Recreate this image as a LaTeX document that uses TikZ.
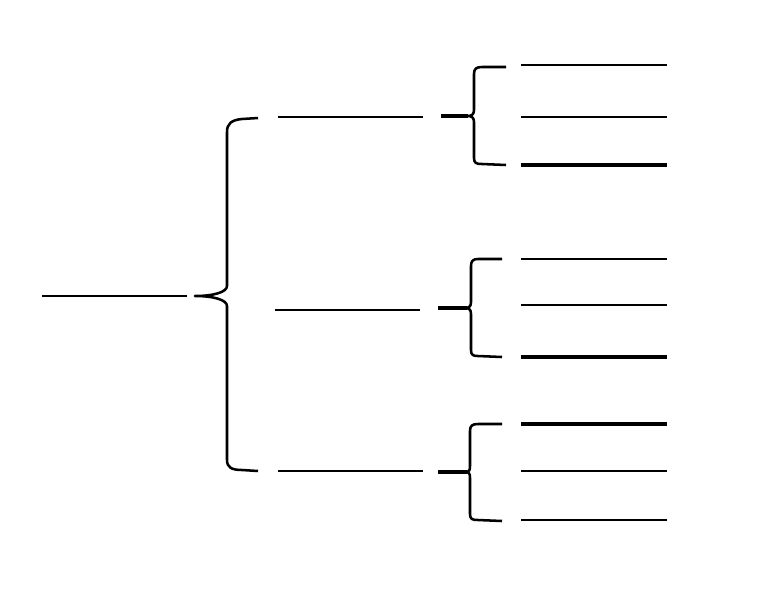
\documentclass[tikz,border=0pt]{standalone}
\begin{document}
\begin{tikzpicture}[x=0.75pt,y=-0.75pt,
  ln/.style={line width=2pt},
  lnthin/.style={line width=1.6pt},
  lnthick/.style={line width=2.6pt},
  brc/.style={line width=1.9pt,line join=round}]
\path[use as bounding box,fill=white] (0,0) rectangle (768,594);
% left root line
\coordinate (r0) at (42,296); \coordinate (r1) at (187,296);
\draw[lnthin] (r0) -- (r1);
% big brace
\coordinate (bt) at (195,296);
\coordinate (bA) at (258,118); \coordinate (bB) at (258,471);
\draw[brc] (bA) -- (242,119) .. controls (231,120) and (227,124) .. (227,132)
  -- (227,286) .. controls (227,292) and (214,296) .. (bt)
  .. controls (214,296) and (227,300) .. (227,306)
  -- (227,460) .. controls (227,467) and (231,470) .. (242,470) -- (bB);
% second level lines
\coordinate (m1a) at (278,117); \coordinate (m1b) at (423,117);
\coordinate (m2a) at (275,310); \coordinate (m2b) at (420,310);
\coordinate (m3a) at (278,471); \coordinate (m3b) at (423,471);
\draw[ln] (m1a) -- (m1b);
\draw[lnthin] (m2a) -- (m2b);
\draw[ln] (m3a) -- (m3b);
% short stubs into small braces
\coordinate (s1a) at (441,116); \coordinate (s1t) at (468,116);
\coordinate (s2a) at (438,308); \coordinate (s2t) at (467,308);
\coordinate (s3a) at (438,472); \coordinate (s3t) at (467,472);
\draw[lnthick] (s1a) -- (s1t);
\draw[lnthick] (s2a) -- (s2t);
\draw[lnthick] (s3a) -- (s3t);
% small brace 1
\draw[brc] (506,67) -- (482,67) .. controls (476,67) and (474,69) .. (474,74)
  -- (474,110) .. controls (474,114) and (472,116) .. (s1t)
  .. controls (472,116) and (474,118) .. (474,122)
  -- (474,158) .. controls (474,163) and (476,164) .. (482,164) -- (506,165);
% small brace 2
\draw[brc] (502,259) -- (478,259) .. controls (473,259) and (471,261) .. (471,266)
  -- (471,302) .. controls (471,306) and (469,308) .. (s2t)
  .. controls (469,308) and (471,310) .. (471,314)
  -- (471,350) .. controls (471,355) and (473,356) .. (478,356) -- (502,357);
% small brace 3
\draw[brc] (502,424) -- (478,424) .. controls (472,424) and (470,426) .. (470,431)
  -- (470,466) .. controls (470,470) and (469,472) .. (s3t)
  .. controls (469,472) and (470,474) .. (470,478)
  -- (470,514) .. controls (470,519) and (472,520) .. (478,520) -- (502,521);
% right leaf lines
\coordinate (a1) at (521,65);  \coordinate (b1) at (667,65);
\coordinate (a2) at (521,117); \coordinate (b2) at (667,117);
\coordinate (a3) at (521,165); \coordinate (b3) at (667,165);
\coordinate (a4) at (521,259); \coordinate (b4) at (667,259);
\coordinate (a5) at (521,305); \coordinate (b5) at (667,305);
\coordinate (a6) at (521,357); \coordinate (b6) at (667,357);
\coordinate (a7) at (521,424); \coordinate (b7) at (667,424);
\coordinate (a8) at (521,471); \coordinate (b8) at (667,471);
\coordinate (a9) at (521,520); \coordinate (b9) at (667,520);
\draw[lnthin] (a1) -- (b1);
\draw[ln] (a2) -- (b2);
\draw[lnthick] (a3) -- (b3);
\draw[ln] (a4) -- (b4);
\draw[ln] (a5) -- (b5);
\draw[lnthick] (a6) -- (b6);
\draw[lnthick] (a7) -- (b7);
\draw[ln] (a8) -- (b8);
\draw[ln] (a9) -- (b9);
\end{tikzpicture}
\end{document}
